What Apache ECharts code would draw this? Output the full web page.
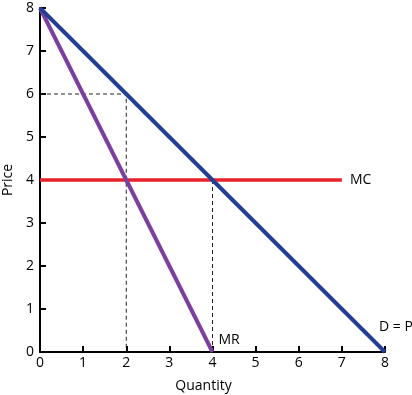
<!DOCTYPE html>
<html><head><meta charset="utf-8">
<script src="https://cdn.jsdelivr.net/npm/echarts@6/dist/echarts.min.js"></script>
<style>html,body{margin:0;padding:0;background:#fff}#c{width:412px;height:395px}</style>
</head><body><div id="c"></div>
<script>
const xTicks = [0,1,2,3,4,5,6,7,8];
const yTicks = [0,1,2,3,4,5,6,7,8];
const demand = [[0,8],[8,0]];
const mr = [[0,8],[4,0]];
const mc = [[0,4],[7,4]];
const guide1 = [[0,6],[2,6],[2,0]];
const guide2 = [[4,4],[4,0]];
const FONT = "Open Sans";
const chart = echarts.init(document.getElementById('c'));
chart.setOption({
  animation:false,
  grid:{left:40,right:27,top:8,bottom:43,containLabel:false,outerBoundsMode:'none'},
  xAxis:{type:'value',min:0,max:8,interval:1,name:'Quantity',nameLocation:'middle',nameGap:27,
    nameTextStyle:{color:'#000',fontSize:14,fontFamily:FONT,padding:[0,18,0,0]},
    axisLine:{onZero:false,lineStyle:{color:'#000',width:2}},
    axisTick:{inside:true,length:6,lineStyle:{color:'#000',width:2}},
    axisLabel:{color:'#000',fontSize:14,fontFamily:FONT,margin:4},
    splitLine:{show:false}},
  yAxis:{type:'value',min:0,max:8,interval:1,name:'Price',nameLocation:'middle',nameGap:25,
    nameTextStyle:{color:'#000',fontSize:14,fontFamily:FONT},
    axisLine:{onZero:false,lineStyle:{color:'#000',width:2}},
    axisTick:{inside:true,length:6,lineStyle:{color:'#000',width:2}},
    axisLabel:{color:'#000',fontSize:14,fontFamily:FONT,margin:6},
    splitLine:{show:false}},
  series:[
    {type:'line',data:guide1,symbol:'none',z:1,lineStyle:{color:'#222',width:1,type:[4,3]}},
    {type:'line',data:guide2,symbol:'none',z:1,lineStyle:{color:'#222',width:1,type:[4,3]}},
    {type:'line',data:mc,symbol:'none',z:2,lineStyle:{color:'#e8202a',width:3.5},
      endLabel:{show:true,formatter:'MC',color:'#000',fontSize:14,fontFamily:FONT,distance:8}},
    {type:'line',data:mr,symbol:'none',z:3,lineStyle:{color:'#7b3f9e',width:4},
      endLabel:{show:true,formatter:'MR',color:'#000',fontSize:14,fontFamily:FONT,offset:[-2,-12]}},
    {type:'line',data:demand,symbol:'none',z:4,lineStyle:{color:'#233e93',width:4},
      endLabel:{show:true,formatter:'D = P',color:'#000',fontSize:14,fontFamily:FONT,offset:[-14,-25]}}
  ]
});
</script></body></html>
